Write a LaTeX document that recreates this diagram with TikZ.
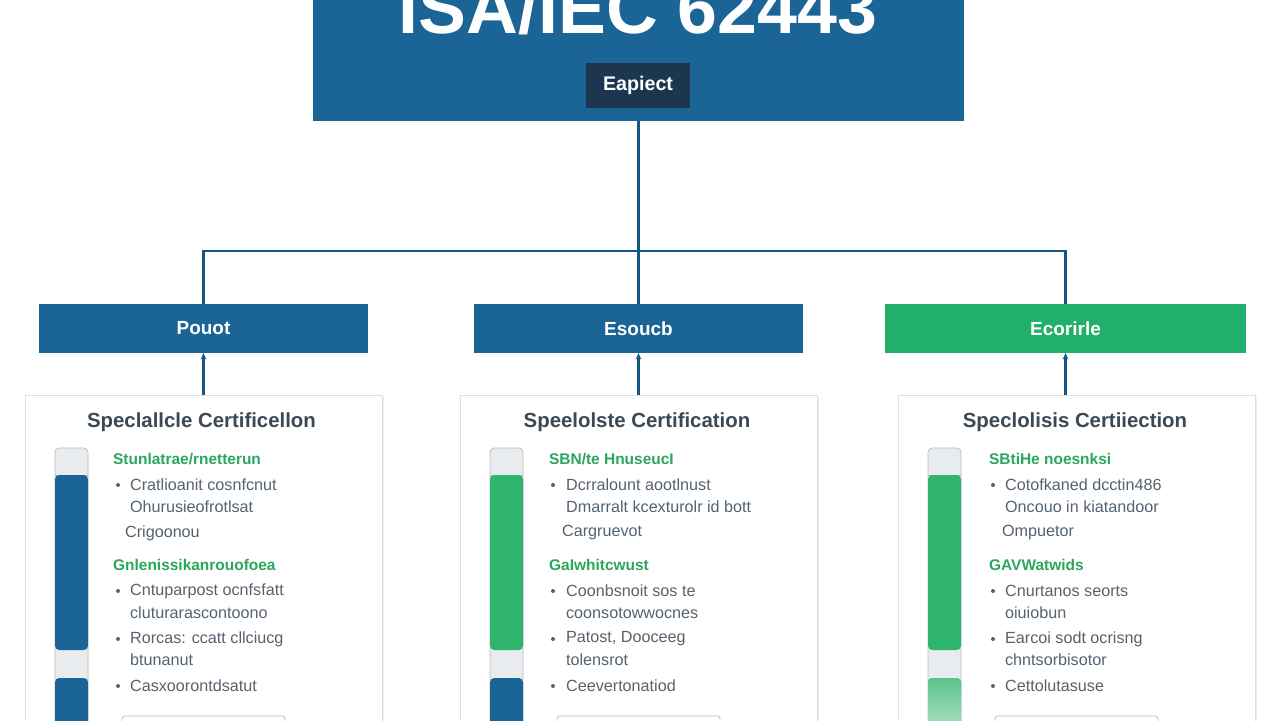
\documentclass[tikz,border=0pt]{standalone}
\usepackage{fontspec}
\setmainfont{Liberation Sans}
\usetikzlibrary{arrows.meta,shadows}

\definecolor{isablue}{HTML}{1B6596}
\definecolor{isanavy}{HTML}{1C3650}
\definecolor{isagreen}{HTML}{22AF6C}
\definecolor{bargreen}{HTML}{2EB46C}
\definecolor{titlegray}{HTML}{3B4856}
\definecolor{textgray}{HTML}{55636F}
\definecolor{subgreen}{HTML}{2BA65E}
\definecolor{barback}{HTML}{E9ECEE}

\tikzset{
  header/.style={minimum width=16.45cm, minimum height=2.45cm, inner sep=0pt,
    text=white, font=\fontsize{27}{30}\selectfont\bfseries},
  card/.style={draw=gray!25, fill=white, minimum width=17.85cm, minimum height=18.25cm,
    inner sep=0pt, drop shadow={opacity=0.12, shadow xshift=0.08cm, shadow yshift=-0.08cm}},
  cardtitle/.style={text=titlegray, font=\fontsize{29}{32}\selectfont\bfseries},
  subhead/.style={anchor=west, inner sep=0pt, text=subgreen, font=\fontsize{22}{24}\selectfont\bfseries},
  item/.style={anchor=west, inner sep=0pt, text=textgray, font=\fontsize{23}{26}\selectfont},
  dot/.style={circle, fill=textgray, inner sep=0pt, minimum size=0.2cm},
  link/.style={draw=isablue!85!black, line width=3.2pt},
}

\begin{document}
\begin{tikzpicture}[x=0.05cm, y=-0.05cm]
    \useasboundingbox (0,0) rectangle (1280,720);
    \fill[white] (0,0) rectangle (1280,720);

    % title block
    \node[fill=isablue, minimum width=32.55cm, minimum height=7.05cm, inner sep=0pt] (titlebox) at (638.5,50.5) {};
    \node[anchor=base, text=white, font=\fontsize{102}{110}\selectfont\bfseries] (titletext) at (638,33) {ISA/IEC 62443};
    \node[fill=isanavy, minimum width=5.2cm, minimum height=2.25cm, inner sep=0pt,
          text=white, font=\fontsize{28}{30}\selectfont\bfseries] (expert) at (638,85.5) {Eapiect};

    % level headers
    \node[header, fill=isablue] (h1) at (203.5,328.5) {Pouot};
    \node[header, fill=isablue] (h2) at (638.5,328.5) {Esoucb};
    \node[header, fill=isagreen, minimum width=18.05cm] (h3) at (1065.5,328.5) {Ecorirle};

    \coordinate (hub) at (638,251);
    \draw[link] (titlebox.south) -- (h2.north);
    \draw[link] (h1.north) |- (hub) -| (h3.north);

    % cards
    \foreach \i/\L/\cx/\ca/\cb/\ttl in {1/25/203.5/isablue/isablue/Speclallcle Certificellon,
                                       2/460/639/bargreen/isablue/Speelolste Certification,
                                       3/898/1077/bargreen/bargreen/Speclolisis Certiiection} {
        \node[card] (c\i) at (\cx,577.5) {};
        \draw[link, -{Stealth[length=9pt,width=8pt]}] (c\i.north -| h\i.south) -- (h\i.south);
        \node[cardtitle] (t\i) at (\cx-2,422) {\ttl};

        \draw[draw=gray!55, fill=barback, rounded corners=6pt, line width=1pt] (\L+30,448) rectangle (\L+63,760);
        \draw[gray!55, line width=1pt] (\L+30,475) -- (\L+63,475);
        \fill[\ca, rounded corners=6pt] (\L+30,475) rectangle (\L+63,650);
        \fill[\cb, rounded corners=6pt] (\L+30,678) rectangle (\L+63,760);

        \draw[gray!55, rounded corners=4pt, line width=1pt] (\L+97,716) rectangle (\L+260,760);
    }
    \shade[top color=bargreen!80, bottom color=bargreen!15, rounded corners=6pt] (928,678) rectangle (961,760);

    % card 1 text
    \node[subhead] (s11) at (113,459) {Stunlatrae/rnetterun};
    \foreach \y/\k in {485/1,591/2,639/3,686/4} \node[dot] (d1\k) at (118,\y) {};
    \node[item] (i11) at (130,485) {Cratlioanit cosnfcnut};
    \node[item] (i12) at (130,507) {Ohurusieofrotlsat};
    \node[item] (i13) at (125,533) {Crigoonou};
    \node[subhead] (s12) at (113,565) {Gnlenissikanrouofoea};
    \node[item] (i14) at (130,591) {Cntuparpost ocnfsfatt};
    \node[item] (i15) at (130,613) {cluturarascontoono};
    \node[item] (i16) at (130,639) {Rorcas: ccatt cllciucg};
    \node[item] (i17) at (130,660) {btunanut};
    \node[item] (i18) at (130,686) {Casxoorontdsatut};

    % card 2 text
    \node[subhead] (s21) at (549,459) {SBN/te HnuseucI};
    \foreach \y/\k in {485/1,591/2,639/3,686/4} \node[dot] (d2\k) at (553,\y) {};
    \node[item] (i21) at (566,485) {Dcrralount aootlnust};
    \node[item] (i22) at (566,507) {Dmarralt kcexturolr id bott};
    \node[item] (i23) at (562,533) {Cargruevot};
    \node[subhead] (s22) at (549,565) {GaIwhitcwust};
    \node[item] (i24) at (566,591) {Coonbsnoit sos te};
    \node[item] (i25) at (566,613) {coonsotowwocnes};
    \node[item] (i26) at (566,639) {Patost, Dooceeg};
    \node[item] (i27) at (566,660) {tolensrot};
    \node[item] (i28) at (566,686) {Ceevertonatiod};

    % card 3 text
    \node[subhead] (s31) at (989,459) {SBtiHe noesnksi};
    \foreach \y/\k in {485/1,591/2,639/3,686/4} \node[dot] (d3\k) at (993,\y) {};
    \node[item] (i31) at (1005,485) {Cotofkaned dcctin486};
    \node[item] (i32) at (1005,507) {Oncouo in kiatandoor};
    \node[item] (i33) at (1002,533) {Ompuetor};
    \node[subhead] (s32) at (989,565) {GAVWatwids};
    \node[item] (i34) at (1005,591) {Cnurtanos seorts};
    \node[item] (i35) at (1005,613) {oiuiobun};
    \node[item] (i36) at (1005,639) {Earcoi sodt ocrisng};
    \node[item] (i37) at (1005,660) {chntsorbisotor};
    \node[item] (i38) at (1005,686) {Cettolutasuse};

\end{tikzpicture}
\end{document}
